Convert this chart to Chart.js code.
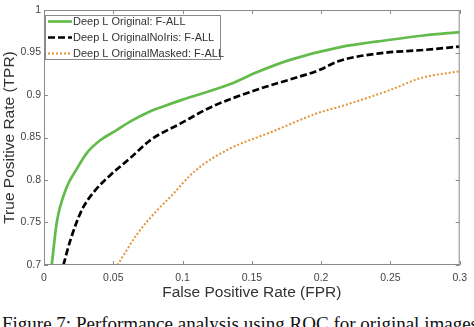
<!DOCTYPE html>
<html><head><meta charset="utf-8">
<script src="https://cdn.jsdelivr.net/npm/chart.js@4"></script>
<style>
html,body{margin:0;padding:0;background:#fff;overflow:hidden;width:474px;height:327px;}
#wrap{position:absolute;left:0;top:0;width:474px;height:302px;}
#cap{position:absolute;left:2px;top:313px;font-family:"Liberation Serif",serif;font-size:19px;line-height:22px;color:#111;white-space:nowrap;}
</style></head><body>
<div id="wrap"><canvas id="c" width="474" height="302"></canvas></div>
<div id="cap">Figure 7: Performance analysis using ROC for original images</div>
<script>
const labels = ["Deep L Original: F-ALL","Deep L OriginalNoIris: F-ALL","Deep L OriginalMasked: F-ALL"];
const greenFPR = [0.0056,0.0092,0.0160,0.0240,0.0310,0.0408,0.0527,0.0624,0.0768,0.0850,0.0990,0.1330,0.1540,0.1770,0.2130,0.2500,0.2740,0.3000];
const greenTPR = [0.700,0.750,0.790,0.814,0.832,0.847,0.859,0.869,0.881,0.886,0.894,0.912,0.927,0.941,0.956,0.965,0.970,0.974];
const blackFPR = [0.0140,0.0190,0.0274,0.0360,0.0480,0.0624,0.0768,0.0980,0.1208,0.1570,0.1770,0.1980,0.2130,0.2420,0.2740,0.3000];
const blackTPR = [0.700,0.729,0.765,0.786,0.806,0.826,0.847,0.866,0.886,0.908,0.918,0.929,0.940,0.949,0.953,0.957];
const orangeFPR = [0.0530,0.0675,0.0820,0.0917,0.1085,0.1330,0.1650,0.1980,0.2130,0.2500,0.2720,0.3000];
const orangeTPR = [0.700,0.737,0.765,0.781,0.810,0.836,0.857,0.879,0.886,0.906,0.920,0.928];
const xTicks = [0,0.05,0.1,0.15,0.2,0.25,0.3];
const yTicks = [0.7,0.75,0.8,0.85,0.9,0.95,1];

const pts = (xs, ys) => xs.map((x, i) => ({x, y: ys[i]}));
const FONT = '"Liberation Sans", Arial, sans-serif';

const boxPlugin = {
  id: 'box',
  afterDatasetsDraw(chart) {
    const {ctx, chartArea: a, scales: {x, y}} = chart;
    ctx.save();
    ctx.strokeStyle = '#8a8a8a';
    ctx.lineWidth = 1;
    ctx.strokeRect(a.left + 0.5, a.top + 0.5, a.right - a.left - 1, a.bottom - a.top - 1);
    ctx.beginPath();
    xTicks.forEach(v => {
      const px = Math.round(x.getPixelForValue(v)) + 0.5;
      ctx.moveTo(px, a.bottom); ctx.lineTo(px, a.bottom - 4);
      ctx.moveTo(px, a.top); ctx.lineTo(px, a.top + 4);
    });
    yTicks.forEach(v => {
      const py = Math.round(y.getPixelForValue(v)) + 0.5;
      ctx.moveTo(a.left, py); ctx.lineTo(a.left + 4, py);
      ctx.moveTo(a.right, py); ctx.lineTo(a.right - 4, py);
    });
    ctx.stroke();
    // legend
    const lx = a.left + 1, ly = a.top + 5, lw = 175, lh = 44;
    ctx.fillStyle = '#fff';
    ctx.fillRect(lx, ly, lw, lh);
    ctx.strokeStyle = '#888';
    ctx.strokeRect(lx + 0.5, ly + 0.5, lw, lh);
    ctx.font = '11px ' + FONT;
    ctx.textBaseline = 'middle';
    chart.data.datasets.forEach((ds, i) => {
      const yy = ly + 6.5 + i * 16;
      ctx.beginPath();
      ctx.strokeStyle = ds.borderColor;
      ctx.lineWidth = ds.borderWidth;
      ctx.setLineDash(ds.borderDash || []);
      ctx.moveTo(lx + 3, yy); ctx.lineTo(lx + 27, yy);
      ctx.stroke();
      ctx.setLineDash([]);
      ctx.fillStyle = '#333';
      ctx.fillText(ds.label, lx + 28, yy);
    });
    ctx.restore();
  }
};

new Chart(document.getElementById('c'), {
  type: 'scatter',
  data: {
    datasets: [
      {label: labels[0], data: pts(greenFPR, greenTPR), showLine: true, borderColor: '#62bb4a', borderWidth: 2.7, pointRadius: 0, cubicInterpolationMode: 'monotone', fill: false},
      {label: labels[1], data: pts(blackFPR, blackTPR), showLine: true, borderColor: '#000', borderWidth: 2.7, borderDash: [7, 3], pointRadius: 0, cubicInterpolationMode: 'monotone', fill: false},
      {label: labels[2], data: pts(orangeFPR, orangeTPR), showLine: true, borderColor: '#e3953a', borderWidth: 2, borderDash: [2, 2], pointRadius: 0, cubicInterpolationMode: 'monotone', fill: false}
    ]
  },
  options: {
    responsive: false,
    animation: false,
    layout: {padding: {top: 10, right: 13, left: 0, bottom: 0}},
    plugins: {legend: {display: false}, tooltip: {enabled: false}},
    scales: {
      x: {
        type: 'linear', min: 0, max: 0.3,
        afterBuildTicks: s => { s.ticks = xTicks.map(v => ({value: v})); },
        afterFit: s => { s.height = 37; },
        grid: {display: false, drawTicks: false},
        border: {display: false},
        ticks: {color: '#444', font: {size: 10.5, family: FONT}, padding: 7, maxRotation: 0,
                callback: v => String(+v.toFixed(2))},
        title: {display: true, text: 'False Positive Rate (FPR)', color: '#333', font: {size: 15.5, family: FONT}, padding: {top: 0, bottom: 0}}
      },
      y: {
        type: 'linear', min: 0.7, max: 1,
        afterBuildTicks: s => { s.ticks = yTicks.map(v => ({value: v})); },
        afterFit: s => { s.width = 44; },
        grid: {display: false, drawTicks: false},
        border: {display: false},
        ticks: {color: '#444', font: {size: 10.5, family: FONT}, padding: 3,
                callback: v => String(+v.toFixed(2))},
        title: {display: true, text: 'True Positive Rate (TPR)', color: '#333', font: {size: 15.5, family: FONT}, padding: {top: 0, bottom: 0}}
      }
    }
  },
  plugins: [boxPlugin]
});
</script>
</body></html>
